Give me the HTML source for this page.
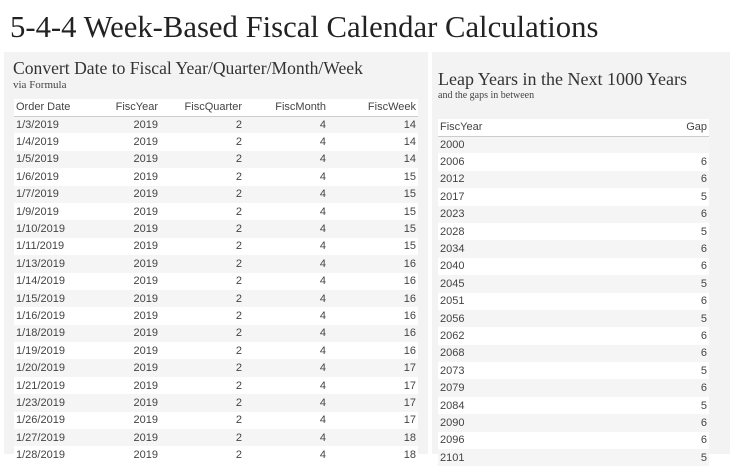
<!DOCTYPE html>
<html><head><style>
body{margin:0;width:736px;height:454px;overflow:hidden;background:#fff;font-family:"Liberation Sans",sans-serif;position:relative}
.t{position:absolute;left:10px;top:10px;font:30.7px "Liberation Serif",serif;color:#222;white-space:nowrap}
.p{position:absolute;background:#f3f3f3}
.h1{position:absolute;font-family:"Liberation Serif",serif;color:#333;white-space:nowrap}
.s{position:absolute;font-family:"Liberation Serif",serif;color:#444;white-space:nowrap}
table{position:absolute;border-collapse:collapse;font-size:11px;color:#444;table-layout:fixed}
td{padding:0 2px;white-space:nowrap}
tr.hd td{background:#fff;border-bottom:1px solid #ccc}
tr:nth-child(even) td{background:#fff}
tr:nth-child(odd) td{background:#f5f5f5}
tr.hd td{background:#fff}
.r{text-align:right}
</style></head><body>
<div class="t">5-4-4 Week-Based Fiscal Calendar Calculations</div>
<div class="p" style="left:4px;top:52px;width:424px;height:402px"></div>
<div class="h1" style="left:13px;top:58px;font-size:17.6px">Convert Date to Fiscal Year/Quarter/Month/Week</div>
<div class="s" style="left:13px;top:79px;font-size:11px">via Formula</div>
<table style="left:14px;top:99px;width:404px">
<colgroup><col style="width:70px"><col style="width:76px"><col style="width:84px"><col style="width:84px"><col style="width:90px"></colgroup>
<tr class="hd" style="height:17px"><td>Order Date</td><td class="r">FiscYear</td><td class="r">FiscQuarter</td><td class="r">FiscMonth</td><td class="r">FiscWeek</td></tr>
<tbody id="L"></tbody>
</table>
<div class="p" style="left:432px;top:52px;width:298px;height:402px"></div>
<div class="h1" style="left:438px;top:69px;font-size:18px">Leap Years in the Next 1000 Years</div>
<div class="s" style="left:438px;top:90px;font-size:10px">and the gaps in between</div>
<table style="left:438px;top:119px;width:271px">
<tr class="hd" style="height:17px"><td>FiscYear</td><td class="r">Gap</td></tr>
<tbody id="R"></tbody>
</table>
<script>
var d=[["1/3",14],["1/4",14],["1/5",14],["1/6",15],["1/7",15],["1/9",15],["1/10",15],["1/11",15],["1/13",16],["1/14",16],["1/15",16],["1/16",16],["1/18",16],["1/19",16],["1/20",17],["1/21",17],["1/23",17],["1/26",17],["1/27",18],["1/28",18]];
var h="";d.forEach(function(x,i){h+='<tr style="height:17.4px"><td>'+x[0]+'/2019</td><td class="r">2019</td><td class="r">2</td><td class="r">4</td><td class="r">'+x[1]+'</td></tr>';});
document.getElementById("L").innerHTML=h;
var y=[2000,2006,2012,2017,2023,2028,2034,2040,2045,2051,2056,2062,2068,2073,2079,2084,2090,2096,2101];
h="";y.forEach(function(v,i){h+='<tr style="height:17.4px"><td>'+v+'</td><td class="r">'+(i?v-y[i-1]:"")+'</td></tr>';});
document.getElementById("R").innerHTML=h;
</script>
</body></html>
